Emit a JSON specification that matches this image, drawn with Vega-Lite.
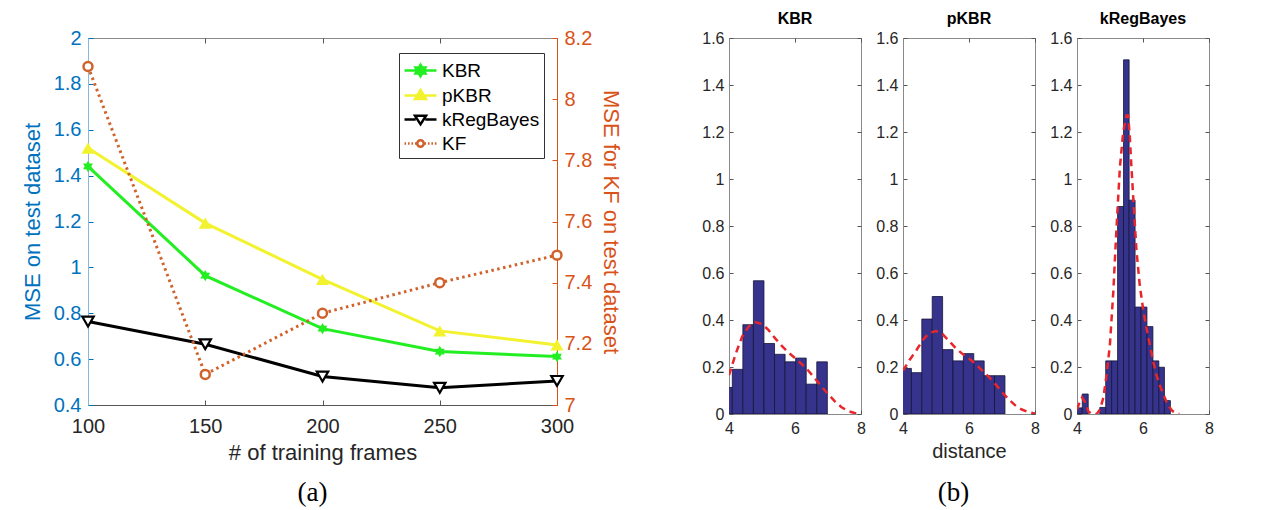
{
  "$schema": "https://vega.github.io/schema/vega-lite/v6.json",
  "padding": {"left": 20, "top": 10, "right": 5, "bottom": 5},
  "background": "white",
  "config": {"font": "Liberation Sans", "axis": {"grid": false, "labelFlush": false}},
  "datasets": {
    "mse": [
      {"frames": 100, "series": "KBR", "mse": 1.44},
      {"frames": 150, "series": "KBR", "mse": 0.964},
      {"frames": 200, "series": "KBR", "mse": 0.733},
      {"frames": 250, "series": "KBR", "mse": 0.633},
      {"frames": 300, "series": "KBR", "mse": 0.611},
      {"frames": 100, "series": "pKBR", "mse": 1.52},
      {"frames": 150, "series": "pKBR", "mse": 1.193},
      {"frames": 200, "series": "pKBR", "mse": 0.948},
      {"frames": 250, "series": "pKBR", "mse": 0.723},
      {"frames": 300, "series": "pKBR", "mse": 0.662},
      {"frames": 100, "series": "kRegBayes", "mse": 0.764},
      {"frames": 150, "series": "kRegBayes", "mse": 0.665},
      {"frames": 200, "series": "kRegBayes", "mse": 0.524},
      {"frames": 250, "series": "kRegBayes", "mse": 0.475},
      {"frames": 300, "series": "kRegBayes", "mse": 0.505},
      {"frames": 100, "series": "KF", "mse": 8.107},
      {"frames": 150, "series": "KF", "mse": 7.10},
      {"frames": 200, "series": "KF", "mse": 7.30},
      {"frames": 250, "series": "KF", "mse": 7.40},
      {"frames": 300, "series": "KF", "mse": 7.49}
    ],
    "hist": [
      {"panel": "KBR", "x0": 3.78, "x1": 4.10, "density": 0.113},
      {"panel": "KBR", "x0": 4.10, "x1": 4.42, "density": 0.19},
      {"panel": "KBR", "x0": 4.42, "x1": 4.74, "density": 0.38},
      {"panel": "KBR", "x0": 4.74, "x1": 5.06, "density": 0.567},
      {"panel": "KBR", "x0": 5.06, "x1": 5.38, "density": 0.30},
      {"panel": "KBR", "x0": 5.38, "x1": 5.70, "density": 0.254},
      {"panel": "KBR", "x0": 5.70, "x1": 6.02, "density": 0.222},
      {"panel": "KBR", "x0": 6.02, "x1": 6.34, "density": 0.238},
      {"panel": "KBR", "x0": 6.34, "x1": 6.66, "density": 0.127},
      {"panel": "KBR", "x0": 6.66, "x1": 6.98, "density": 0.222},
      {"panel": "pKBR", "x0": 3.94, "x1": 4.255, "density": 0.194},
      {"panel": "pKBR", "x0": 4.255, "x1": 4.57, "density": 0.176},
      {"panel": "pKBR", "x0": 4.57, "x1": 4.885, "density": 0.404},
      {"panel": "pKBR", "x0": 4.885, "x1": 5.20, "density": 0.50},
      {"panel": "pKBR", "x0": 5.20, "x1": 5.515, "density": 0.274},
      {"panel": "pKBR", "x0": 5.515, "x1": 5.83, "density": 0.226},
      {"panel": "pKBR", "x0": 5.83, "x1": 6.145, "density": 0.257},
      {"panel": "pKBR", "x0": 6.145, "x1": 6.46, "density": 0.226},
      {"panel": "pKBR", "x0": 6.46, "x1": 6.775, "density": 0.163},
      {"panel": "pKBR", "x0": 6.775, "x1": 7.09, "density": 0.163},
      {"panel": "kRegBayes", "x0": 3.98, "x1": 4.16, "density": 0.026},
      {"panel": "kRegBayes", "x0": 4.16, "x1": 4.34, "density": 0.085},
      {"panel": "kRegBayes", "x0": 4.69, "x1": 4.87, "density": 0.028},
      {"panel": "kRegBayes", "x0": 4.87, "x1": 5.05, "density": 0.226},
      {"panel": "kRegBayes", "x0": 5.05, "x1": 5.23, "density": 0.226},
      {"panel": "kRegBayes", "x0": 5.23, "x1": 5.41, "density": 0.883},
      {"panel": "kRegBayes", "x0": 5.41, "x1": 5.58, "density": 1.507},
      {"panel": "kRegBayes", "x0": 5.58, "x1": 5.76, "density": 0.91},
      {"panel": "kRegBayes", "x0": 5.76, "x1": 5.94, "density": 0.455},
      {"panel": "kRegBayes", "x0": 5.94, "x1": 6.12, "density": 0.455},
      {"panel": "kRegBayes", "x0": 6.12, "x1": 6.30, "density": 0.372},
      {"panel": "kRegBayes", "x0": 6.30, "x1": 6.48, "density": 0.226},
      {"panel": "kRegBayes", "x0": 6.48, "x1": 6.65, "density": 0.199},
      {"panel": "kRegBayes", "x0": 6.65, "x1": 6.83, "density": 0.057}
    ],
    "curve": [
      {"panel": "KBR", "x": 4.0, "dens": 0.165},
      {"panel": "KBR", "x": 4.2, "dens": 0.255},
      {"panel": "KBR", "x": 4.4, "dens": 0.33},
      {"panel": "KBR", "x": 4.6, "dens": 0.373},
      {"panel": "KBR", "x": 4.8, "dens": 0.39},
      {"panel": "KBR", "x": 5.0, "dens": 0.383},
      {"panel": "KBR", "x": 5.2, "dens": 0.357},
      {"panel": "KBR", "x": 5.4, "dens": 0.322},
      {"panel": "KBR", "x": 5.6, "dens": 0.29},
      {"panel": "KBR", "x": 5.8, "dens": 0.262},
      {"panel": "KBR", "x": 6.0, "dens": 0.238},
      {"panel": "KBR", "x": 6.2, "dens": 0.213},
      {"panel": "KBR", "x": 6.4, "dens": 0.185},
      {"panel": "KBR", "x": 6.6, "dens": 0.152},
      {"panel": "KBR", "x": 6.8, "dens": 0.118},
      {"panel": "KBR", "x": 7.0, "dens": 0.085},
      {"panel": "KBR", "x": 7.2, "dens": 0.055},
      {"panel": "KBR", "x": 7.4, "dens": 0.03},
      {"panel": "KBR", "x": 7.6, "dens": 0.013},
      {"panel": "KBR", "x": 7.8, "dens": 0.004},
      {"panel": "KBR", "x": 8.0, "dens": 0.001},
      {"panel": "pKBR", "x": 4.0, "dens": 0.185},
      {"panel": "pKBR", "x": 4.2, "dens": 0.23},
      {"panel": "pKBR", "x": 4.4, "dens": 0.27},
      {"panel": "pKBR", "x": 4.6, "dens": 0.315},
      {"panel": "pKBR", "x": 4.8, "dens": 0.345},
      {"panel": "pKBR", "x": 5.0, "dens": 0.353},
      {"panel": "pKBR", "x": 5.2, "dens": 0.34},
      {"panel": "pKBR", "x": 5.4, "dens": 0.31},
      {"panel": "pKBR", "x": 5.6, "dens": 0.28},
      {"panel": "pKBR", "x": 5.8, "dens": 0.256},
      {"panel": "pKBR", "x": 6.0, "dens": 0.236},
      {"panel": "pKBR", "x": 6.2, "dens": 0.213},
      {"panel": "pKBR", "x": 6.4, "dens": 0.185},
      {"panel": "pKBR", "x": 6.6, "dens": 0.158},
      {"panel": "pKBR", "x": 6.8, "dens": 0.127},
      {"panel": "pKBR", "x": 7.0, "dens": 0.093},
      {"panel": "pKBR", "x": 7.2, "dens": 0.063},
      {"panel": "pKBR", "x": 7.4, "dens": 0.037},
      {"panel": "pKBR", "x": 7.6, "dens": 0.019},
      {"panel": "pKBR", "x": 7.8, "dens": 0.008},
      {"panel": "pKBR", "x": 8.0, "dens": 0.002},
      {"panel": "kRegBayes", "x": 4.0, "dens": 0.02},
      {"panel": "kRegBayes", "x": 4.08, "dens": 0.05},
      {"panel": "kRegBayes", "x": 4.15, "dens": 0.07},
      {"panel": "kRegBayes", "x": 4.25, "dens": 0.05},
      {"panel": "kRegBayes", "x": 4.35, "dens": 0.01},
      {"panel": "kRegBayes", "x": 4.45, "dens": 0.0},
      {"panel": "kRegBayes", "x": 4.6, "dens": 0.0},
      {"panel": "kRegBayes", "x": 4.7, "dens": 0.02},
      {"panel": "kRegBayes", "x": 4.8, "dens": 0.07},
      {"panel": "kRegBayes", "x": 4.9, "dens": 0.17},
      {"panel": "kRegBayes", "x": 5.0, "dens": 0.3},
      {"panel": "kRegBayes", "x": 5.1, "dens": 0.52},
      {"panel": "kRegBayes", "x": 5.2, "dens": 0.8},
      {"panel": "kRegBayes", "x": 5.3, "dens": 1.05},
      {"panel": "kRegBayes", "x": 5.4, "dens": 1.2},
      {"panel": "kRegBayes", "x": 5.5, "dens": 1.27},
      {"panel": "kRegBayes", "x": 5.55, "dens": 1.27},
      {"panel": "kRegBayes", "x": 5.6, "dens": 1.18},
      {"panel": "kRegBayes", "x": 5.65, "dens": 1.05},
      {"panel": "kRegBayes", "x": 5.7, "dens": 0.93},
      {"panel": "kRegBayes", "x": 5.8, "dens": 0.7},
      {"panel": "kRegBayes", "x": 5.9, "dens": 0.55},
      {"panel": "kRegBayes", "x": 6.0, "dens": 0.45},
      {"panel": "kRegBayes", "x": 6.1, "dens": 0.37},
      {"panel": "kRegBayes", "x": 6.2, "dens": 0.3},
      {"panel": "kRegBayes", "x": 6.3, "dens": 0.23},
      {"panel": "kRegBayes", "x": 6.4, "dens": 0.17},
      {"panel": "kRegBayes", "x": 6.5, "dens": 0.125},
      {"panel": "kRegBayes", "x": 6.6, "dens": 0.09},
      {"panel": "kRegBayes", "x": 6.7, "dens": 0.055},
      {"panel": "kRegBayes", "x": 6.8, "dens": 0.03},
      {"panel": "kRegBayes", "x": 6.9, "dens": 0.012},
      {"panel": "kRegBayes", "x": 7.0, "dens": 0.004},
      {"panel": "kRegBayes", "x": 7.1, "dens": 0.0}
    ]
  },
  "bounds": "flush",
  "spacing": 172,
  "hconcat": [
    {
      "width": 469,
      "height": 367,
      "view": {"stroke": "#8a8a8a"},
      "data": {"name": "mse"},
      "title": {"text": "(a)", "orient": "bottom", "anchor": "middle", "font": "Liberation Serif", "fontSize": 27, "fontWeight": "normal", "color": "#000", "offset": 17, "dx": -10},
      "layer": [
        {
          "encoding": {
            "x": {"field": "frames", "type": "quantitative", "scale": {"domain": [100, 300]},
              "axis": {"orient": "bottom", "values": [100, 150, 200, 250, 300], "title": "# of training frames", "labelFontSize": 20, "titleFontSize": 22, "titleFontWeight": "normal", "labelColor": "#262626", "titleColor": "#262626", "tickSize": -5, "labelPadding": 16, "titlePadding": 6, "tickColor": "#555", "domainColor": "#555"}},
            "y": {"field": "mse", "type": "quantitative", "scale": {"domain": [0.4, 2]},
              "axis": {"orient": "left", "values": [0.4, 0.6, 0.8, 1, 1.2, 1.4, 1.6, 1.8, 2], "format": "~g", "title": "MSE on test dataset", "labelFontSize": 20, "titleFontSize": 22, "titleFontWeight": "normal", "labelColor": "#0072BD", "titleColor": "#0072BD", "tickColor": "#0072BD", "domainColor": "#86b9dd", "tickSize": -5, "labelPadding": 12, "titlePadding": 9}}
          },
          "layer": [
            {"transform": [{"filter": "datum.series === 'KBR'"}], "mark": {"type": "line", "color": "#22ee22", "strokeWidth": 3}},
            {"transform": [{"filter": "datum.series === 'KBR'"}], "mark": {"type": "point", "shape": "M0,-1L0.866,0.5L-0.866,0.5ZM0,1L-0.866,-0.5L0.866,-0.5Z", "filled": true, "color": "#22ee22", "size": 130, "opacity": 1}},
            {"transform": [{"filter": "datum.series === 'pKBR'"}], "mark": {"type": "line", "color": "#f2f22e", "strokeWidth": 3}},
            {"transform": [{"filter": "datum.series === 'pKBR'"}], "mark": {"type": "point", "shape": "triangle-up", "filled": true, "color": "#f2f22e", "size": 170, "opacity": 1}},
            {"transform": [{"filter": "datum.series === 'kRegBayes'"}], "mark": {"type": "line", "color": "#000000", "strokeWidth": 3}},
            {"transform": [{"filter": "datum.series === 'kRegBayes'"}], "mark": {"type": "point", "shape": "triangle-down", "filled": false, "fill": "white", "stroke": "#000000", "strokeWidth": 2.2, "size": 130, "opacity": 1}},
            {
              "transform": [{"filter": "datum.frames < 0"}],
              "mark": {"type": "point", "filled": true, "strokeWidth": 2.5, "opacity": 1},
              "encoding": {
                "shape": {"field": "series", "type": "nominal",
                  "scale": {"domain": ["KBR", "pKBR", "kRegBayes", "KF"],
                    "range": [
                      "M-1.333,0H1.333M0,-0.48L0.416,0.24L-0.416,0.24ZM0,0.48L-0.416,-0.24L0.416,-0.24Z",
                      "M-1.333,0H1.333M0,-0.46L0.46,0.3L-0.46,0.3Z",
                      "M-1.333,0H-0.4M0.4,0H1.333M0,0.4L0.46,-0.32L-0.46,-0.32Z",
                      "M-1.333,0H-1.2M-1.04,0H-0.91M-0.75,0H-0.62M-0.46,0H-0.36M0.36,0H0.46M0.62,0H0.75M0.91,0H1.04M1.2,0H1.333M0.27,0A0.27,0.27 0 1,1 -0.27,0A0.27,0.27 0 1,1 0.27,0Z"
                    ]},
                  "legend": {"title": null, "orient": "none", "legendX": 311, "legendY": 15, "symbolSize": 576, "symbolOffset": 4, "symbolStrokeWidth": 2.5, "labelFontSize": 19, "labelColor": "#000", "labelOffset": 8, "padding": 4, "rowPadding": 0, "strokeColor": "#333", "fillColor": "white"}},
                "fill": {"field": "series", "type": "nominal",
                  "scale": {"domain": ["KBR", "pKBR", "kRegBayes", "KF"], "range": ["#22ee22", "#f2f22e", "#ffffff", "#ffffff"]},
                  "legend": {"title": null, "orient": "none", "legendX": 311, "legendY": 15, "symbolSize": 576, "symbolOffset": 4, "symbolStrokeWidth": 2.5, "labelFontSize": 19, "labelColor": "#000", "labelOffset": 8, "padding": 4, "rowPadding": 0, "strokeColor": "#333", "fillColor": "white"}},
                "stroke": {"field": "series", "type": "nominal",
                  "scale": {"domain": ["KBR", "pKBR", "kRegBayes", "KF"], "range": ["#22ee22", "#f2f22e", "#000000", "#d0622c"]},
                  "legend": {"title": null, "orient": "none", "legendX": 311, "legendY": 15, "symbolSize": 576, "symbolOffset": 4, "symbolStrokeWidth": 2.5, "labelFontSize": 19, "labelColor": "#000", "labelOffset": 8, "padding": 4, "rowPadding": 0, "strokeColor": "#333", "fillColor": "white"}}
              }
            }
          ]
        },
        {
          "transform": [{"filter": "datum.series === 'KF'"}],
          "encoding": {
            "x": {"field": "frames", "type": "quantitative", "scale": {"domain": [100, 300]},
              "axis": {"orient": "top", "values": [100, 150, 200, 250, 300], "labels": false, "title": null, "domain": false, "tickSize": -5, "tickColor": "#555"}},
            "y": {"field": "mse", "type": "quantitative", "scale": {"domain": [7, 8.2]},
              "axis": {"orient": "right", "values": [7, 7.2, 7.4, 7.6, 7.8, 8, 8.2], "format": "~g", "title": "MSE for KF on test dataset", "labelFontSize": 20, "titleFontSize": 22, "titleFontWeight": "normal", "labelColor": "#D95319", "titleColor": "#D95319", "tickColor": "#D95319", "domainColor": "#D95319", "tickSize": -5, "labelPadding": 12, "titlePadding": 7}}
          },
          "layer": [
            {"mark": {"type": "line", "color": "#d0622c", "strokeWidth": 3, "strokeDash": [2.5, 3.5]}},
            {"mark": {"type": "point", "shape": "circle", "filled": false, "fill": "white", "stroke": "#d0622c", "strokeWidth": 2.5, "size": 80, "opacity": 1}}
          ]
        }
      ],
      "resolve": {"scale": {"y": "independent"}, "axis": {"x": "independent"}}
    },
    {
      "bounds": "flush",
      "spacing": 42,
      "title": {"text": "(b)", "orient": "bottom", "anchor": "middle", "font": "Liberation Serif", "fontSize": 27, "fontWeight": "normal", "color": "#000", "offset": 18, "dx": -4},
      "hconcat": [
        {
          "width": 132, "height": 376,
          "view": {"stroke": "#8a8a8a"},
          "title": {"text": "KBR", "fontSize": 16, "fontWeight": "bold", "offset": 3, "color": "#000"},
          "layer": [
            {"data": {"name": "hist"}, "transform": [{"filter": "datum.panel === 'KBR'"}],
              "mark": {"type": "rect", "clip": true, "fill": "#36338c", "stroke": "#15153a", "strokeWidth": 0.8},
              "encoding": {
                "x": {"field": "x0", "type": "quantitative", "scale": {"domain": [4, 8]}, "axis": {"orient": "bottom", "values": [4, 6, 8], "title": null, "labelFontSize": 16, "labelColor": "#262626", "tickSize": -4, "labelPadding": 10, "tickColor": "#555", "domainColor": "#8a8a8a"}},
                "x2": {"field": "x1"},
                "y": {"field": "density", "type": "quantitative", "scale": {"domain": [0, 1.6]}, "axis": {"orient": "left", "values": [0, 0.2, 0.4, 0.6, 0.8, 1, 1.2, 1.4, 1.6], "format": "~g", "title": null, "labelFontSize": 16, "labelColor": "#262626", "tickSize": -4, "labelPadding": 9, "tickColor": "#555", "domainColor": "#8a8a8a"}},
                "y2": {"datum": 0}
              }},
            {"data": {"name": "curve"}, "transform": [{"filter": "datum.panel === 'KBR'"}],
              "mark": {"type": "line", "clip": true, "color": "#e8262b", "strokeWidth": 2.5, "strokeDash": [7, 5]},
              "encoding": {
                "x": {"field": "x", "type": "quantitative", "scale": {"domain": [4, 8]}, "axis": {"orient": "top", "values": [4, 6, 8], "labels": false, "title": null, "domain": false, "tickSize": -4, "tickColor": "#555"}},
                "y": {"field": "dens", "type": "quantitative", "scale": {"domain": [0, 1.6]}, "axis": {"orient": "right", "values": [0, 0.2, 0.4, 0.6, 0.8, 1, 1.2, 1.4, 1.6], "labels": false, "title": null, "domain": false, "tickSize": -4, "tickColor": "#555"}}
              }}
          ],
          "resolve": {"axis": {"x": "independent", "y": "independent"}}
        },
        {
          "width": 132, "height": 376,
          "view": {"stroke": "#8a8a8a"},
          "title": {"text": "pKBR", "fontSize": 16, "fontWeight": "bold", "offset": 3, "color": "#000"},
          "layer": [
            {"data": {"name": "hist"}, "transform": [{"filter": "datum.panel === 'pKBR'"}],
              "mark": {"type": "rect", "clip": true, "fill": "#36338c", "stroke": "#15153a", "strokeWidth": 0.8},
              "encoding": {
                "x": {"field": "x0", "type": "quantitative", "scale": {"domain": [4, 8]}, "axis": {"orient": "bottom", "values": [4, 6, 8], "title": "distance", "titleFontSize": 20, "titleFontWeight": "normal", "titleColor": "#262626", "titlePadding": 5, "labelFontSize": 16, "labelColor": "#262626", "tickSize": -4, "labelPadding": 10, "tickColor": "#555", "domainColor": "#8a8a8a"}},
                "x2": {"field": "x1"},
                "y": {"field": "density", "type": "quantitative", "scale": {"domain": [0, 1.6]}, "axis": {"orient": "left", "values": [0, 0.2, 0.4, 0.6, 0.8, 1, 1.2, 1.4, 1.6], "format": "~g", "title": null, "labelFontSize": 16, "labelColor": "#262626", "tickSize": -4, "labelPadding": 9, "tickColor": "#555", "domainColor": "#8a8a8a"}},
                "y2": {"datum": 0}
              }},
            {"data": {"name": "curve"}, "transform": [{"filter": "datum.panel === 'pKBR'"}],
              "mark": {"type": "line", "clip": true, "color": "#e8262b", "strokeWidth": 2.5, "strokeDash": [7, 5]},
              "encoding": {
                "x": {"field": "x", "type": "quantitative", "scale": {"domain": [4, 8]}, "axis": {"orient": "top", "values": [4, 6, 8], "labels": false, "title": null, "domain": false, "tickSize": -4, "tickColor": "#555"}},
                "y": {"field": "dens", "type": "quantitative", "scale": {"domain": [0, 1.6]}, "axis": {"orient": "right", "values": [0, 0.2, 0.4, 0.6, 0.8, 1, 1.2, 1.4, 1.6], "labels": false, "title": null, "domain": false, "tickSize": -4, "tickColor": "#555"}}
              }}
          ],
          "resolve": {"axis": {"x": "independent", "y": "independent"}}
        },
        {
          "width": 132, "height": 376,
          "view": {"stroke": "#8a8a8a"},
          "title": {"text": "kRegBayes", "fontSize": 16, "fontWeight": "bold", "offset": 3, "color": "#000"},
          "layer": [
            {"data": {"name": "hist"}, "transform": [{"filter": "datum.panel === 'kRegBayes'"}],
              "mark": {"type": "rect", "clip": true, "fill": "#36338c", "stroke": "#15153a", "strokeWidth": 0.8},
              "encoding": {
                "x": {"field": "x0", "type": "quantitative", "scale": {"domain": [4, 8]}, "axis": {"orient": "bottom", "values": [4, 6, 8], "title": null, "labelFontSize": 16, "labelColor": "#262626", "tickSize": -4, "labelPadding": 10, "tickColor": "#555", "domainColor": "#8a8a8a"}},
                "x2": {"field": "x1"},
                "y": {"field": "density", "type": "quantitative", "scale": {"domain": [0, 1.6]}, "axis": {"orient": "left", "values": [0, 0.2, 0.4, 0.6, 0.8, 1, 1.2, 1.4, 1.6], "format": "~g", "title": null, "labelFontSize": 16, "labelColor": "#262626", "tickSize": -4, "labelPadding": 9, "tickColor": "#555", "domainColor": "#8a8a8a"}},
                "y2": {"datum": 0}
              }},
            {"data": {"name": "curve"}, "transform": [{"filter": "datum.panel === 'kRegBayes'"}],
              "mark": {"type": "line", "clip": true, "color": "#e8262b", "strokeWidth": 2.5, "strokeDash": [7, 5]},
              "encoding": {
                "x": {"field": "x", "type": "quantitative", "scale": {"domain": [4, 8]}, "axis": {"orient": "top", "values": [4, 6, 8], "labels": false, "title": null, "domain": false, "tickSize": -4, "tickColor": "#555"}},
                "y": {"field": "dens", "type": "quantitative", "scale": {"domain": [0, 1.6]}, "axis": {"orient": "right", "values": [0, 0.2, 0.4, 0.6, 0.8, 1, 1.2, 1.4, 1.6], "labels": false, "title": null, "domain": false, "tickSize": -4, "tickColor": "#555"}}
              }}
          ],
          "resolve": {"axis": {"x": "independent", "y": "independent"}}
        }
      ]
    }
  ]
}
